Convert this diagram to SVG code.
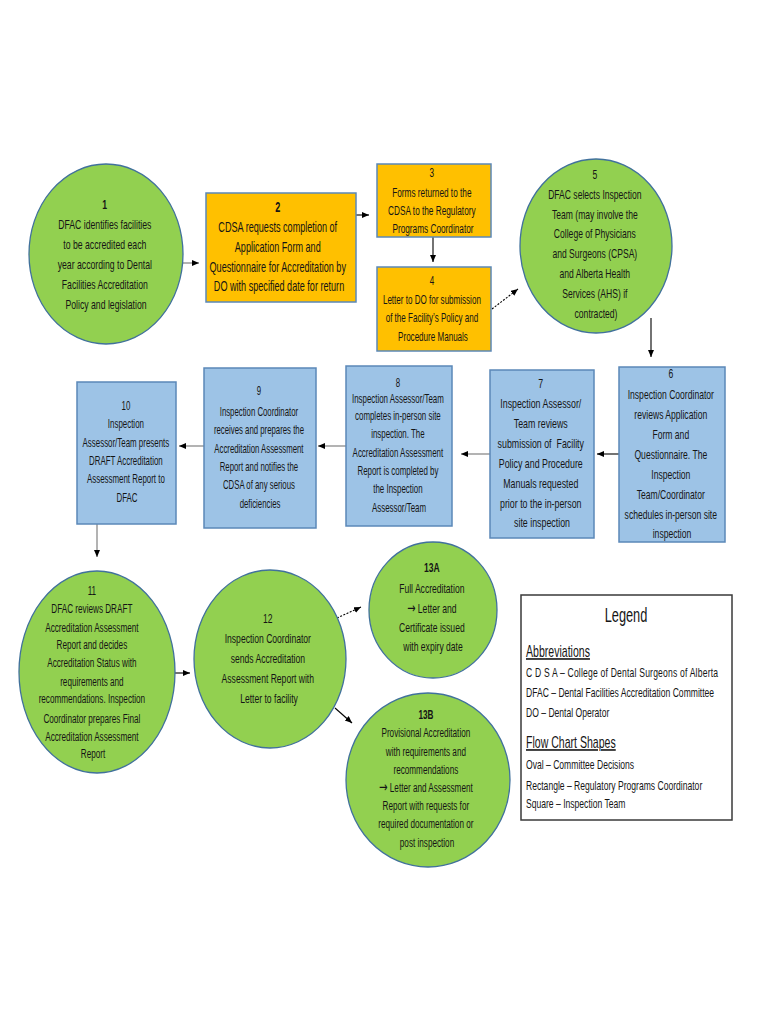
<svg xmlns="http://www.w3.org/2000/svg" width="768" height="1024" viewBox="0 0 768 1024">
<style>
  text { font-family: "Liberation Sans", Arial, sans-serif; fill: #151515; text-anchor: middle; }
  .oval { fill: #92D050; stroke: #41719C; stroke-width: 1.3; }
  .rect { fill: #FFC000; stroke: #5B88B8; stroke-width: 1.5; }
  .sq { fill: #9DC3E6; stroke: #5B88B8; stroke-width: 1.5; }
  .num { font-weight: bold; }
  .ar { font-family: "DejaVu Sans", sans-serif; font-size: 15px; }
  .f14 { font-size: 14px; }
  .f13 { font-size: 13px; }
  .f12 { font-size: 12px; }
  .f125 { font-size: 12.5px; }
  .ln { fill: none; stroke: #000; stroke-width: 1.1; marker-end: url(#arr); }
  .lg { fill: none; stroke: #8a8a8a; stroke-width: 1.3; marker-end: url(#arr); }
  .dot { stroke-dasharray: 2 1.5; }
  .leg { text-anchor: start; font-size: 13px; }
</style>
<defs>
  <marker id="arr" markerUnits="userSpaceOnUse" markerWidth="8" markerHeight="8" refX="7" refY="3" orient="auto">
    <path d="M0,0 L7,3 L0,6 z" fill="#000"/>
  </marker>
</defs>
<rect width="768" height="1024" fill="#fff"/>

<g id="connectors">
  <line class="lg" x1="183" y1="263" x2="199" y2="263"/>
  <line class="ln" x1="356" y1="215" x2="369" y2="215"/>
  <line class="ln" x1="433" y1="237" x2="433" y2="262"/>
  <line class="ln dot" x1="492" y1="309" x2="518" y2="289"/>
  <line class="ln" x1="651" y1="318" x2="651" y2="357"/>
  <line class="ln" x1="619" y1="454" x2="597" y2="454"/>
  <line class="lg" x1="490" y1="454" x2="461" y2="454"/>
  <line class="lg" x1="346" y1="446" x2="318" y2="446"/>
  <line class="lg" x1="204" y1="446" x2="179" y2="446"/>
  <line class="lg" x1="97" y1="524" x2="97" y2="557"/>
  <line class="ln" x1="175" y1="673" x2="190" y2="673"/>
  <line class="ln dot" x1="337" y1="618" x2="361" y2="607"/>
  <line class="ln" x1="335" y1="708" x2="352" y2="723"/>
</g>

<g id="n1">
  <ellipse class="oval" cx="106" cy="254" rx="77" ry="90"/>
  <text class="f13" transform="translate(106 0) scale(0.67 1)">
    <tspan class="num" x="0" y="209">1</tspan>
    <tspan x="0" y="229">DFAC identifies facilities</tspan>
    <tspan x="0" y="249">to be accredited each</tspan>
    <tspan x="0" y="269">year according to Dental</tspan>
    <tspan x="0" y="289">Facilities Accreditation</tspan>
    <tspan x="0" y="309">Policy and legislation</tspan>
  </text>
</g>

<g id="n2">
  <rect class="rect" x="206" y="193" width="150" height="109"/>
  <text class="f14" transform="translate(279 0) scale(0.65 1)">
    <tspan class="num" x="0" y="212">2</tspan>
    <tspan x="0" y="232">CDSA requests completion of</tspan>
    <tspan x="0" y="252">Application Form and</tspan>
    <tspan x="0" y="272">Questionnaire for Accreditation by</tspan>
    <tspan x="0" y="291">DO with specified date for return</tspan>
  </text>
</g>

<g id="n3">
  <rect class="rect" x="377" y="164" width="114" height="73"/>
  <text class="f125" transform="translate(433 0) scale(0.66 1)">
    <tspan x="0" y="177">3</tspan>
    <tspan x="0" y="197">Forms returned to the</tspan>
    <tspan x="0" y="215">CDSA to the Regulatory</tspan>
    <tspan x="0" y="233">Programs Coordinator</tspan>
  </text>
</g>

<g id="n4">
  <rect class="rect" x="377" y="267" width="114" height="84"/>
  <text class="f125" transform="translate(433 0) scale(0.645 1)">
    <tspan x="0" y="285">4</tspan>
    <tspan x="0" y="304">Letter to DO for submission</tspan>
    <tspan x="0" y="322">of the Facility’s Policy and</tspan>
    <tspan x="0" y="341">Procedure Manuals</tspan>
  </text>
</g>

<g id="n5">
  <ellipse class="oval" cx="596" cy="246" rx="76" ry="87"/>
  <text class="f13" transform="translate(596 0) scale(0.66 1)">
    <tspan x="0" y="179">5</tspan>
    <tspan x="0" y="199">DFAC selects Inspection</tspan>
    <tspan x="0" y="219">Team (may involve the</tspan>
    <tspan x="0" y="238">College of Physicians</tspan>
    <tspan x="0" y="258">and Surgeons (CPSA)</tspan>
    <tspan x="0" y="278">and Alberta Health</tspan>
    <tspan x="0" y="298">Services (AHS) if</tspan>
    <tspan x="0" y="318">contracted)</tspan>
  </text>
</g>

<g id="n6">
  <rect class="sq" x="619" y="367" width="106" height="175"/>
  <text class="f13" transform="translate(672 0) scale(0.66 1)">
    <tspan x="0" y="378">6</tspan>
    <tspan x="0" y="399">Inspection Coordinator</tspan>
    <tspan x="0" y="419">reviews Application</tspan>
    <tspan x="0" y="439">Form and</tspan>
    <tspan x="0" y="459">Questionnaire. The</tspan>
    <tspan x="0" y="479">Inspection</tspan>
    <tspan x="0" y="499">Team/Coordinator</tspan>
    <tspan x="0" y="519">schedules in-person site</tspan>
    <tspan x="0" y="538">inspection</tspan>
  </text>
</g>

<g id="n7">
  <rect class="sq" x="490" y="370" width="104" height="168"/>
  <text class="f13" transform="translate(542 0) scale(0.68 1)">
    <tspan x="0" y="388">7</tspan>
    <tspan x="0" y="408">Inspection Assessor/</tspan>
    <tspan x="0" y="428">Team reviews</tspan>
    <tspan x="0" y="448">submission of&#160; Facility</tspan>
    <tspan x="0" y="468">Policy and Procedure</tspan>
    <tspan x="0" y="488">Manuals requested</tspan>
    <tspan x="0" y="508">prior to the in-person</tspan>
    <tspan x="0" y="527">site inspection</tspan>
  </text>
</g>

<g id="n8">
  <rect class="sq" x="346" y="366" width="106" height="160"/>
  <text class="f12" transform="translate(399 0) scale(0.66 1)">
    <tspan x="0" y="387">8</tspan>
    <tspan x="0" y="403">Inspection Assessor/Team</tspan>
    <tspan x="0" y="420">completes in-person site</tspan>
    <tspan x="0" y="438">inspection. The</tspan>
    <tspan x="0" y="457">Accreditation Assessment</tspan>
    <tspan x="0" y="475">Report is completed by</tspan>
    <tspan x="0" y="493">the Inspection</tspan>
    <tspan x="0" y="512">Assessor/Team</tspan>
  </text>
</g>

<g id="n9">
  <rect class="sq" x="204" y="368" width="112" height="160"/>
  <text class="f12" transform="translate(260 0) scale(0.65 1)">
    <tspan x="0" y="395">9</tspan>
    <tspan x="0" y="416">Inspection Coordinator</tspan>
    <tspan x="0" y="434">receives and prepares the</tspan>
    <tspan x="0" y="453">Accreditation Assessment</tspan>
    <tspan x="0" y="471">Report and notifies the</tspan>
    <tspan x="0" y="489">CDSA of any serious</tspan>
    <tspan x="0" y="508">deficiencies</tspan>
  </text>
</g>

<g id="n10">
  <rect class="sq" x="77" y="382" width="99" height="142"/>
  <text class="f12" transform="translate(127 0) scale(0.66 1)">
    <tspan x="0" y="410">10</tspan>
    <tspan x="0" y="428">Inspection</tspan>
    <tspan x="0" y="447">Assessor/Team presents</tspan>
    <tspan x="0" y="465">DRAFT Accreditation</tspan>
    <tspan x="0" y="483">Assessment Report to</tspan>
    <tspan x="0" y="502">DFAC</tspan>
  </text>
</g>

<g id="n11">
  <ellipse class="oval" cx="97" cy="672" rx="78" ry="101"/>
  <text class="f12" transform="translate(93 0) scale(0.68 1)">
    <tspan x="0" y="595">11</tspan>
    <tspan x="0" y="613">DFAC reviews DRAFT</tspan>
    <tspan x="0" y="632">Accreditation Assessment</tspan>
    <tspan x="0" y="649">Report and decides</tspan>
    <tspan x="0" y="667">Accreditation Status with</tspan>
    <tspan x="0" y="686">requirements and</tspan>
    <tspan x="0" y="703">recommendations. Inspection</tspan>
    <tspan x="0" y="723">Coordinator prepares Final</tspan>
    <tspan x="0" y="741">Accreditation Assessment</tspan>
    <tspan x="0" y="758">Report</tspan>
  </text>
</g>

<g id="n12">
  <ellipse class="oval" cx="270" cy="659" rx="76" ry="89"/>
  <text class="f13" transform="translate(269 0) scale(0.66 1)">
    <tspan x="0" y="623">12</tspan>
    <tspan x="0" y="643">Inspection Coordinator</tspan>
    <tspan x="0" y="663">sends Accreditation</tspan>
    <tspan x="0" y="683">Assessment Report with</tspan>
    <tspan x="0" y="703">Letter to facility</tspan>
  </text>
</g>

<g id="n13a">
  <ellipse class="oval" cx="433" cy="610" rx="64" ry="68"/>
  <text class="f13" transform="translate(433 0) scale(0.66 1)">
    <tspan class="num" x="0" y="572">13A</tspan>
    <tspan x="0" y="593">Full Accreditation</tspan>
    <tspan x="0" y="613"><tspan class="ar">→</tspan> Letter and</tspan>
    <tspan x="0" y="632">Certificate issued</tspan>
    <tspan x="0" y="651">with expiry date</tspan>
  </text>
</g>

<g id="n13b">
  <ellipse class="oval" cx="428" cy="780" rx="82" ry="87"/>
  <text class="f12" transform="translate(427 0) scale(0.68 1)">
    <tspan class="num" x="0" y="719">13B</tspan>
    <tspan x="0" y="737">Provisional Accreditation</tspan>
    <tspan x="0" y="756">with requirements and</tspan>
    <tspan x="0" y="774">recommendations</tspan>
    <tspan x="0" y="792"><tspan class="ar">→</tspan> Letter and Assessment</tspan>
    <tspan x="0" y="810">Report with requests for</tspan>
    <tspan x="0" y="828">required documentation or</tspan>
    <tspan x="0" y="847">post inspection</tspan>
  </text>
</g>

<g id="legend">
  <rect x="521" y="595" width="211" height="225" fill="#fff" stroke="#3a3a3a" stroke-width="1.5"/>
  <text transform="translate(626 0) scale(0.64 1)" style="font-size:20px"><tspan x="0" y="622">Legend</tspan></text>
  <g transform="translate(526 0) scale(0.66 1)">
    <text class="leg" x="0" y="657" style="font-size:16px; text-decoration: underline;">Abbreviations</text>
    <text class="leg" x="0" y="677" textLength="291" lengthAdjust="spacing">C D S A – College of Dental Surgeons of Alberta</text>
    <text class="leg" x="0" y="697">DFAC – Dental Facilities Accreditation Committee</text>
    <text class="leg" x="0" y="717">DO – Dental Operator</text>
    <text class="leg" x="0" y="748" style="font-size:16px; text-decoration: underline;">Flow Chart Shapes</text>
    <text class="leg" x="0" y="769">Oval – Committee Decisions</text>
    <text class="leg" x="0" y="790">Rectangle – Regulatory Programs Coordinator</text>
    <text class="leg" x="0" y="808">Square – Inspection Team</text>
  </g>
</g>
</svg>
